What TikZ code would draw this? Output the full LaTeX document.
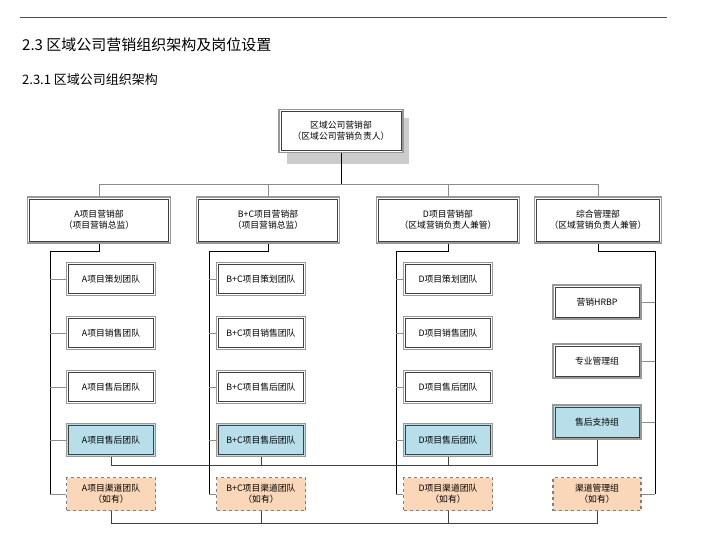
\documentclass[tikz,border=0pt]{standalone}
\usepackage{fontspec}
\setmainfont{Liberation Serif}
\newfontfamily\cjk{Noto Sans CJK SC}
\usetikzlibrary{positioning}
\definecolor{teamblue}{RGB}{184,222,233}
\definecolor{chanorange}{RGB}{250,215,185}
\tikzset{box/.style={draw=black!40, line width=1.6pt, fill=white, minimum height=33pt, align=center, font=\cjk\fontsize{8.8}{11}\selectfont, inner sep=1pt,
    path picture={\draw[black!75, line width=0.6pt] ([shift={(2pt,-2pt)}]path picture bounding box.north west) rectangle ([shift={(-2pt,2pt)}]path picture bounding box.south east);}},
  blue/.style={box, fill=teamblue},
  chan/.style={draw=black!50, dashed, line width=1.3pt, fill=chanorange, minimum height=33pt, align=center, font=\cjk\fontsize{8.8}{11}\selectfont, inner sep=1pt},
  trunk/.style={draw=black, line width=1pt},
  twig/.style={draw=black!45, line width=0.9pt},
  link/.style={draw=black!75, line width=0.9pt}}
\begin{document}
\begin{tikzpicture}[x=1pt, y=-1pt]
\useasboundingbox (0,0) rectangle (713,544);
\draw[black!70, line width=0.8pt] (20,17) -- (667,17);
\node[anchor=west, inner sep=0, font=\cjk\fontsize{15}{18}\selectfont] (h1) at (22,45) {2.3 区域公司营销组织架构及岗位设置};
\node[anchor=west, inner sep=0, font=\cjk\fontsize{13}{16}\selectfont] (h2) at (22,80) {2.3.1 区域公司组织架构};

% top
\fill[black!20] (287,118) rectangle (409,164);
\node[box, minimum width=124pt, minimum height=43pt] (top) at (341,131) {区域公司营销部\\（区域公司营销负责人）};

% departments
\node[box, minimum width=143pt, minimum height=46pt] (dA) at (99,220) {A项目营销部\\（项目营销总监）};
\node[box, minimum width=143pt, minimum height=46pt] (dBC) at (268,220) {B+C项目营销部\\（项目营销总监）};
\node[box, minimum width=143pt, minimum height=46pt] (dD) at (448,220) {D项目营销部\\（区域营销负责人兼管）};
\node[box, minimum width=127pt, minimum height=46pt] (dZ) at (598,220) {综合管理部\\（区域营销负责人兼管）};
\coordinate (bus) at (341,184);
\draw[trunk] (top.south) -- (bus);
\foreach \d in {dA,dBC,dD,dZ} \draw[twig] (\d.north) |- (bus);

% project teams
\foreach \d/\n/\x/\s in {dA/A/111/50, dBC/B+C/261/209, dD/D/448/396} {
  \node[box, minimum width=89pt] (\d1) at (\x,279) {\n 项目策划团队};
  \node[box, minimum width=89pt] (\d2) at (\x,333) {\n 项目销售团队};
  \node[box, minimum width=89pt] (\d3) at (\x,387) {\n 项目售后团队};
  \node[blue, minimum width=89pt] (\d4) at (\x,440) {\n 项目售后团队};
  \node[chan, minimum width=89pt] (\d5) at (\x,494) {\n 项目渠道团队\\（如有）};
  \coordinate (\d s) at (\s,251);
  \draw[trunk] (\d.south) |- (\d s) -- (\d s |- \d5.west);
  \foreach \i in {1,...,5} \draw[twig] (\d s |- \d\i.west) -- (\d\i.west);
}

% general management
\node[box, minimum width=88pt, minimum height=34pt] (z1) at (597,302) {营销HRBP};
\node[box, minimum width=88pt, minimum height=34pt] (z2) at (597,361) {专业管理组};
\node[blue, minimum width=88pt, minimum height=34pt] (z3) at (597,422) {售后支持组};
\node[chan, minimum width=88pt] (z4) at (597,494) {渠道管理组\\（如有）};
\coordinate (dZs) at (655,251);
\draw[trunk] (dZ.south) |- (dZs) -- (dZs |- z4.east);
\foreach \i in {1,...,4} \draw[twig] (dZs |- z\i.east) -- (z\i.east);

% cross links
\coordinate (after) at (597,465);
\coordinate (chanl) at (597,523);
\draw[link] (dA4.south) |- (after) -- (z3.south);
\foreach \d in {dBC4,dD4} \draw[link] (\d.south) -- (\d.south |- after);
\draw[link] (dA5.south) |- (chanl) -- (z4.south);
\foreach \d in {dBC5,dD5} \draw[link] (\d.south) -- (\d.south |- chanl);
\end{tikzpicture}
\end{document}
